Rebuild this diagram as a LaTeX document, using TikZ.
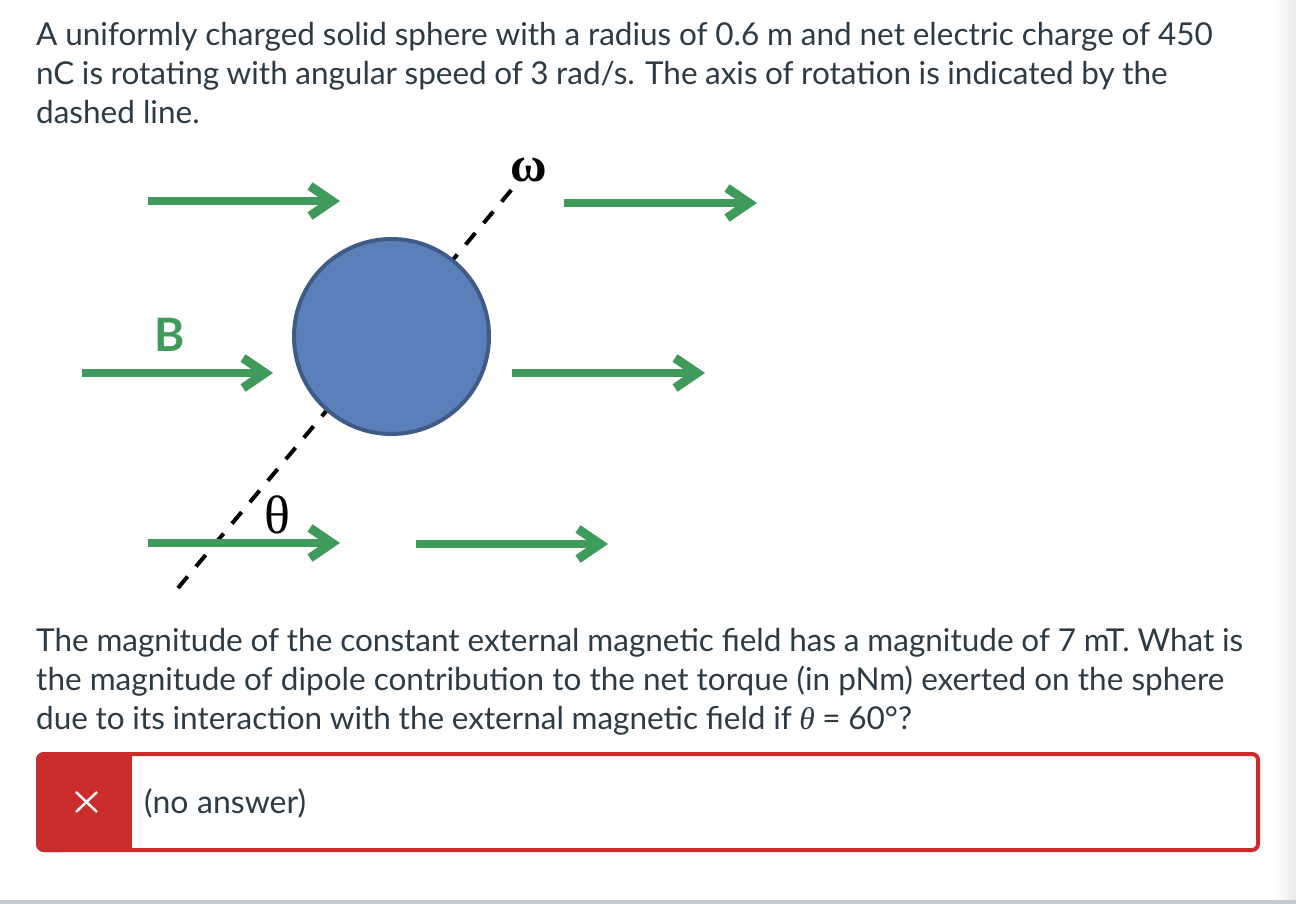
\documentclass[tikz,border=0pt]{standalone}
\usepackage{fontspec}
\setmainfont{Lato}
\newfontfamily\serifgr{Liberation Serif}
\usetikzlibrary{arrows.meta}
\definecolor{txt}{HTML}{2D3B45}
\definecolor{grn}{HTML}{3F9B5B}
\definecolor{ball}{HTML}{5B7FB9}
\definecolor{balle}{HTML}{3F5B86}
\definecolor{wrong}{HTML}{CB2D2D}
\definecolor{barg}{HTML}{C5CACE}
\newcommand{\wsp}[1]{\spaceskip=\dimexpr\fontdimen2\font+#1pt\relax}
\tikzset{
  x=1pt,y=-1pt,
  para/.style={anchor=base west,inner sep=0pt,text=txt,font=\fontsize{31.5}{39}\selectfont},
  fieldarrow/.style={draw=grn,line width=8pt,-{Straight Barb[length=22pt,width=30pt,line width=9pt]}},
  axisline/.style={draw=black,line width=4pt,dash pattern=on 15pt off 13pt},
  sphere/.style={circle,draw=balle,line width=4pt,fill=ball,minimum size=195pt,inner sep=0pt},
  wrongbox/.style={draw=wrong,line width=4pt,rounded corners=6pt,fill=white},
}
\begin{document}
\begin{tikzpicture}
\useasboundingbox (0,0) rectangle (1296,904);
\fill[white] (0,0) rectangle (1296,904);
\shade[left color=white,right color=black!8] (1274,0) rectangle (1296,904);
\fill[barg] (0,900) rectangle (1296,904);
% text
\node[para] (l1) at (36,46) {\wsp{-0.27}A uniformly charged solid sphere with a radius of 0.6 m and net electric charge of 450};
\node[para] (l2) at (36,85) {\wsp{-0.56}nC is rotating with angular speed of 3 rad/s. The axis of rotation is indicated by the};
\node[para] (l3) at (36,124) {dashed line.};
\node[para] (l4) at (36,651) {\wsp{-0.27}The magnitude of the constant external magnetic field has a magnitude of 7 mT. What is};
\node[para] (l5) at (36,690) {\wsp{0.06}the magnitude of dipole contribution to the net torque (in pNm) exerted on the sphere};
\node[para] (l6) at (36,729) {\wsp{-0.4}due to its interaction with the external magnetic field if {\serifgr\itshape θ} = 60°?};
% axis
\coordinate (axa) at (178,588);
\coordinate (axb) at (513,188);
\draw[axisline] (axa) -- (axb);
% sphere
\node[sphere] (sph) at (391.5,336.5) {};
% arrows
\foreach \n/\xa/\xb/\yy in {a/148/340/201,b/564/757/203,c/82/273/373,d/512/705/373,e/148/340/543,f/416/608/544}{
  \coordinate (\n s) at (\xa,\yy);
  \coordinate (\n t) at (\xb,\yy);
  \draw[fieldarrow] (\n s) -- (\n t);
}
\node[inner sep=0pt,text=grn,font=\fontsize{46}{46}\selectfont\bfseries] (bl) at (170,335) {B};
\node[inner sep=0pt,text=black,font=\serifgr\fontsize{54}{54}\selectfont] (th) at (277,515) {θ};
\node[inner sep=0pt,text=black,font=\serifgr\bfseries\fontsize{50}{50}\selectfont] (om) at (529,170) {ω};
% answer box
\node[wrongbox,minimum width=1220pt,minimum height=96pt,inner sep=0pt] (box) at (648,802) {};
\fill[wrong,rounded corners=8pt] (36,752) rectangle (70,852);
\fill[wrong] (48,752) rectangle (132,852);
\draw[white,line width=2.4pt] (76,792) -- (97,812) (97,792) -- (76,812);
\node[para,font=\fontsize{32}{39}\selectfont] (na) at (144,813) {\wsp{0.5}(no answer)};
\end{tikzpicture}
\end{document}
